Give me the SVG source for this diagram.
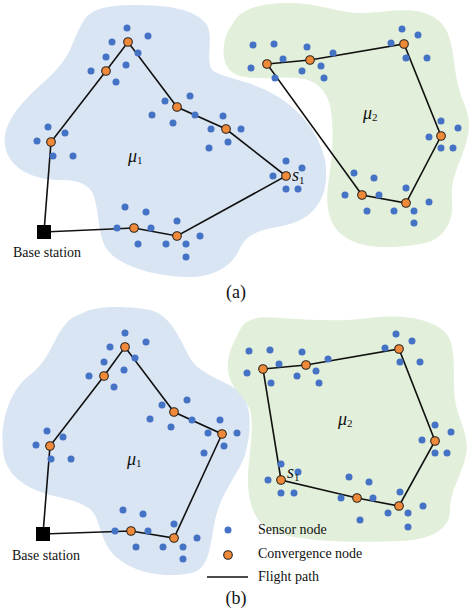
<svg xmlns="http://www.w3.org/2000/svg" width="474" height="609" viewBox="0 0 474 609">
<style>
.bg{fill:#ffffff}
.zb{fill:#d9e5f3}
.zg{fill:#e2efda}
.path{fill:none;stroke:#111;stroke-width:1.6;stroke-linejoin:miter}
.s{fill:#4472c4}
.c{fill:#ef8a3a;stroke:#2a2018;stroke-width:1.1}
.bs{fill:#000}
.t{font-family:"Liberation Serif","Times New Roman",serif;font-size:14px;fill:#111}
.lab{font-family:"Liberation Serif","Times New Roman",serif;font-size:18px;fill:#111}
.m{font-family:"Liberation Serif","Times New Roman",serif;font-style:italic;font-size:18px;fill:#111}
.sub{font-style:normal;font-size:11px}
</style>
<defs>
<circle id="sd" r="3.5"/>
</defs>
<rect class="bg" x="0" y="0" width="474" height="609"/>

<g id="zones">
<path id="zone-a-mu1" class="zb" d="M83,22 C90,8 110,5 135,5 C165,5 195,8 207,25 C214,38 205,60 212,70 C222,78 250,80 275,95 C300,110 318,130 325,160 C330,190 320,215 290,224 C270,230 250,228 240,248 C232,268 210,278 187,277 C160,276 130,270 112,255 C98,243 100,220 95,200 C92,185 80,180 60,180 C35,180 12,170 6,150 C0,130 15,110 30,95 C45,80 60,70 70,50 C75,38 78,30 83,22 Z"/>
<path id="zone-a-mu2" class="zg" d="M232,25 C240,8 262,3 290,3 C320,3 340,14 365,13 C390,12 415,5 435,18 C455,30 452,60 458,85 C463,105 472,115 468,135 C463,160 450,175 452,200 C454,220 445,238 425,243 C400,248 370,250 350,240 C330,230 325,210 328,185 C332,160 335,130 330,105 C325,88 315,80 298,78 C280,76 262,80 245,77 C226,74 222,60 224,45 C225,37 228,30 232,25 Z"/>
<path id="zone-b-mu1" class="zb" d="M83,313 C95,305 130,306 150,310 C170,315 178,335 190,358 C200,375 225,380 240,392 C252,405 252,430 245,455 C238,475 222,490 215,520 C210,545 210,565 195,572 C175,578 140,576 120,560 C103,548 102,530 95,515 C88,503 70,500 50,495 C25,488 5,475 3,450 C0,420 10,390 30,375 C50,360 55,335 65,325 C70,318 75,316 83,313 Z"/>
<path id="zone-b-mu2" class="zg" d="M240,330 C245,318 260,316 280,318 C310,320 340,322 370,318 C400,314 430,318 445,332 C458,345 452,380 455,400 C458,420 470,435 466,455 C462,475 450,490 450,510 C450,530 430,540 400,541 C360,543 300,542 275,532 C255,524 248,505 248,480 C248,455 255,430 250,410 C245,395 230,390 228,370 C226,355 235,340 240,330 Z"/>
</g>

<g id="connectors">
<path id="path-a-1" class="path" d="M44,232 L51,142 L106,71 L128,42 L177,107 L226,129 L286,176 L177,236 L134,228 Z"/>
<path id="path-a-2" class="path" d="M267,64 L310,60 L404,44 L441,136 L406,203 L362,195 Z"/>
<path id="path-b-1" class="path" d="M43,534 L50,446 L104,376 L125,347 L174,412 L222,434 L174,538 L131,531 Z"/>
<path id="path-b-2" class="path" d="M263,369 L306,365 L399,349 L435,441 L399,506 L357,498 L281,480 Z"/>
</g>

<g id="sensors-a" class="s">
<use href="#sd" x="127" y="28"/><use href="#sd" x="148" y="36"/><use href="#sd" x="112" y="42"/><use href="#sd" x="138" y="53"/><use href="#sd" x="106" y="57"/><use href="#sd" x="126" y="65"/><use href="#sd" x="91" y="71"/><use href="#sd" x="116" y="82"/><use href="#sd" x="165" y="101"/><use href="#sd" x="190" y="96"/><use href="#sd" x="152" y="115"/><use href="#sd" x="173" y="123"/><use href="#sd" x="195" y="115"/><use href="#sd" x="223" y="116"/><use href="#sd" x="211" y="129"/><use href="#sd" x="241" y="129"/><use href="#sd" x="228" y="142"/><use href="#sd" x="209" y="148"/><use href="#sd" x="48" y="127"/><use href="#sd" x="65" y="133"/><use href="#sd" x="37" y="141"/><use href="#sd" x="53" y="156"/><use href="#sd" x="73" y="156"/><use href="#sd" x="125" y="207"/><use href="#sd" x="146" y="212"/><use href="#sd" x="117" y="228"/><use href="#sd" x="151" y="228"/><use href="#sd" x="177" y="221"/><use href="#sd" x="138" y="244"/><use href="#sd" x="166" y="244"/><use href="#sd" x="186" y="244"/><use href="#sd" x="200" y="236"/><use href="#sd" x="186" y="257"/><use href="#sd" x="286" y="161"/><use href="#sd" x="302" y="168"/><use href="#sd" x="273" y="176"/><use href="#sd" x="286" y="189"/><use href="#sd" x="298" y="189"/>
<use href="#sd" x="253" y="45"/><use href="#sd" x="274" y="44"/><use href="#sd" x="307" y="47"/><use href="#sd" x="283" y="59"/><use href="#sd" x="251" y="68"/><use href="#sd" x="275" y="78"/><use href="#sd" x="302" y="71"/><use href="#sd" x="321" y="66"/><use href="#sd" x="324" y="78"/><use href="#sd" x="333" y="53"/><use href="#sd" x="402" y="29"/><use href="#sd" x="418" y="35"/><use href="#sd" x="391" y="43"/><use href="#sd" x="406" y="58"/><use href="#sd" x="427" y="58"/><use href="#sd" x="441" y="121"/><use href="#sd" x="458" y="128"/><use href="#sd" x="429" y="137"/><use href="#sd" x="441" y="148"/><use href="#sd" x="453" y="148"/><use href="#sd" x="354" y="173"/><use href="#sd" x="374" y="178"/><use href="#sd" x="345" y="195"/><use href="#sd" x="379" y="195"/><use href="#sd" x="406" y="188"/><use href="#sd" x="367" y="211"/><use href="#sd" x="394" y="211"/><use href="#sd" x="414" y="211"/><use href="#sd" x="429" y="202"/><use href="#sd" x="414" y="223"/>
</g>

<g id="sensors-b" class="s">
<use href="#sd" x="125" y="333"/><use href="#sd" x="146" y="342"/><use href="#sd" x="110" y="347"/><use href="#sd" x="135" y="358"/><use href="#sd" x="104" y="362"/><use href="#sd" x="124" y="370"/><use href="#sd" x="89" y="376"/><use href="#sd" x="114" y="387"/><use href="#sd" x="162" y="405"/><use href="#sd" x="187" y="400"/><use href="#sd" x="150" y="419"/><use href="#sd" x="171" y="427"/><use href="#sd" x="192" y="420"/><use href="#sd" x="220" y="420"/><use href="#sd" x="208" y="433"/><use href="#sd" x="237" y="433"/><use href="#sd" x="224" y="446"/><use href="#sd" x="204" y="453"/><use href="#sd" x="47" y="431"/><use href="#sd" x="63" y="437"/><use href="#sd" x="36" y="445"/><use href="#sd" x="51" y="459"/><use href="#sd" x="71" y="459"/><use href="#sd" x="123" y="510"/><use href="#sd" x="143" y="514"/><use href="#sd" x="115" y="531"/><use href="#sd" x="148" y="531"/><use href="#sd" x="174" y="524"/><use href="#sd" x="136" y="547"/><use href="#sd" x="163" y="547"/><use href="#sd" x="183" y="547"/><use href="#sd" x="197" y="538"/><use href="#sd" x="183" y="559"/>
<use href="#sd" x="249" y="351"/><use href="#sd" x="270" y="350"/><use href="#sd" x="302" y="352"/><use href="#sd" x="279" y="364"/><use href="#sd" x="247" y="373"/><use href="#sd" x="271" y="383"/><use href="#sd" x="297" y="376"/><use href="#sd" x="316" y="371"/><use href="#sd" x="319" y="383"/><use href="#sd" x="328" y="359"/><use href="#sd" x="396" y="334"/><use href="#sd" x="412" y="341"/><use href="#sd" x="385" y="348"/><use href="#sd" x="400" y="362"/><use href="#sd" x="420" y="362"/><use href="#sd" x="435" y="425"/><use href="#sd" x="451" y="432"/><use href="#sd" x="422" y="440"/><use href="#sd" x="435" y="453"/><use href="#sd" x="447" y="453"/><use href="#sd" x="281" y="464"/><use href="#sd" x="298" y="472"/><use href="#sd" x="268" y="480"/><use href="#sd" x="281" y="493"/><use href="#sd" x="294" y="493"/><use href="#sd" x="349" y="477"/><use href="#sd" x="369" y="482"/><use href="#sd" x="341" y="498"/><use href="#sd" x="373" y="498"/><use href="#sd" x="400" y="492"/><use href="#sd" x="360" y="520"/><use href="#sd" x="388" y="513"/><use href="#sd" x="408" y="513"/><use href="#sd" x="423" y="506"/><use href="#sd" x="408" y="527"/>
</g>

<g id="convergence-a" class="c">
<circle cx="51" cy="142" r="4.3"/><circle cx="106" cy="71" r="4.3"/><circle cx="128" cy="42" r="4.3"/><circle cx="177" cy="107" r="4.3"/><circle cx="226" cy="129" r="4.3"/><circle cx="286" cy="176" r="4.3"/><circle cx="177" cy="236" r="4.3"/><circle cx="134" cy="228" r="4.3"/>
<circle cx="267" cy="64" r="4.3"/><circle cx="310" cy="60" r="4.3"/><circle cx="404" cy="44" r="4.3"/><circle cx="441" cy="136" r="4.3"/><circle cx="406" cy="203" r="4.3"/><circle cx="362" cy="195" r="4.3"/>
</g>
<g id="convergence-b" class="c">
<circle cx="50" cy="446" r="4.3"/><circle cx="104" cy="376" r="4.3"/><circle cx="125" cy="347" r="4.3"/><circle cx="174" cy="412" r="4.3"/><circle cx="222" cy="434" r="4.3"/><circle cx="174" cy="538" r="4.3"/><circle cx="131" cy="531" r="4.3"/>
<circle cx="263" cy="369" r="4.3"/><circle cx="306" cy="365" r="4.3"/><circle cx="399" cy="349" r="4.3"/><circle cx="435" cy="441" r="4.3"/><circle cx="399" cy="506" r="4.3"/><circle cx="357" cy="498" r="4.3"/><circle cx="281" cy="480" r="4.3"/>
</g>

<g id="base-station-a">
<rect class="bs" x="37" y="225" width="14" height="14"/>
<text class="t" x="13" y="257">Base station</text>
</g>
<g id="base-station-b">
<rect class="bs" x="36" y="527" width="14" height="14"/>
<text class="t" x="12" y="560">Base station</text>
</g>

<g id="labels">
<text class="m" x="128" y="162">μ<tspan class="sub" dy="2">1</tspan></text>
<text class="m" x="363" y="119">μ<tspan class="sub" dy="2">2</tspan></text>
<text class="m" x="292" y="181">s<tspan class="sub" dy="3">1</tspan></text>
<text class="m" x="127" y="465">μ<tspan class="sub" dy="2">1</tspan></text>
<text class="m" x="338" y="425">μ<tspan class="sub" dy="2">2</tspan></text>
<text class="m" x="287" y="478">s<tspan class="sub" dy="3">1</tspan></text>
<text class="lab" x="236" y="298" text-anchor="middle">(a)</text>
<text class="lab" x="236" y="604" text-anchor="middle">(b)</text>
</g>

<g id="legend">
<circle class="s" cx="228" cy="530" r="3.5"/>
<text class="t" x="258" y="534">Sensor node</text>
<circle class="c" cx="228" cy="555" r="4.3"/>
<text class="t" x="258" y="558">Convergence node</text>
<line x1="207" y1="577" x2="248" y2="577" stroke="#111" stroke-width="1.6"/>
<text class="t" x="258" y="581">Flight path</text>
</g>
</svg>
